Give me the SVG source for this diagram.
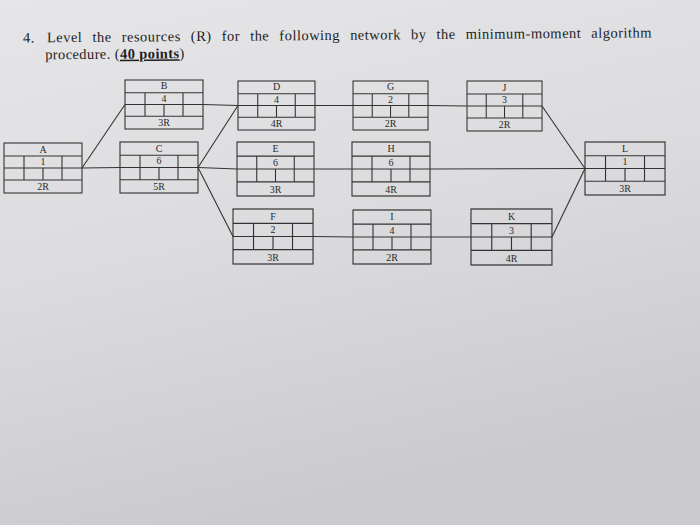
<svg xmlns="http://www.w3.org/2000/svg" xmlns:xlink="http://www.w3.org/1999/xlink" width="700" height="525" viewBox="0 0 700 525">
<defs>
<linearGradient id="paper" x1="0" y1="0" x2="0.3" y2="1">
<stop offset="0" stop-color="#e6e6e9"/>
<stop offset="0.5" stop-color="#dcdcdf"/>
<stop offset="1" stop-color="#cbcace"/>
</linearGradient>
<g id="node">
<rect x="0" y="0" width="78" height="50" fill="none"/>
<path d="M0 13H78M0 25H78M0 37H78M20 13V37M58 13V37M39 25V37" fill="none"/>
</g>
<style>
.nd{stroke:#333;stroke-width:1.1;fill:none}
.nd *{vector-effect:non-scaling-stroke}
.conn line{stroke:#333;stroke-width:1.1}
.t{font-family:"Liberation Serif","Times New Roman",serif;font-size:10px;fill:#2a2a2a;text-anchor:middle}
.h{font-family:"Liberation Serif","Times New Roman",serif;font-size:14.5px;letter-spacing:0.4px;fill:#1e1e1e}
</style>
</defs>
<rect width="700" height="525" fill="url(#paper)"/>
<g transform="rotate(-0.47 23 43)">
<text class="h" x="23" y="42.5">4.</text>
<text class="h" x="47" y="42.5" word-spacing="6" textLength="605" lengthAdjust="spacing">Level the resources (R) for the following network by the minimum-moment algorithm</text>
<text class="h" x="45" y="59.5">procedure. (<tspan font-weight="bold" text-decoration="underline">40 points</tspan>)</text>
</g>
<g class="conn">
<line x1="82" y1="168" x2="125" y2="104.5"/>
<line x1="82" y1="168" x2="120" y2="167.5"/>
<line x1="203" y1="104.5" x2="238" y2="105.5"/>
<line x1="198" y1="167.5" x2="238" y2="105.5"/>
<line x1="198" y1="167.5" x2="237" y2="169"/>
<line x1="198" y1="167.5" x2="233" y2="236.5"/>
<line x1="315" y1="105.5" x2="353" y2="105.5"/>
<line x1="428" y1="105.5" x2="467" y2="106"/>
<line x1="542" y1="106" x2="585" y2="168.5"/>
<line x1="314" y1="169" x2="352" y2="169"/>
<line x1="430" y1="169" x2="585" y2="168.5"/>
<line x1="313" y1="236.5" x2="353" y2="237"/>
<line x1="431" y1="237" x2="471" y2="237"/>
<line x1="552" y1="237" x2="585" y2="168.5"/>
</g>
<g id="A"><use class="nd" href="#node" transform="translate(4 143)"/><text class="t" x="43" y="152.5">A</text><text class="t" x="43" y="165">1</text><text class="t" x="43" y="190">2R</text></g>
<g id="B"><use class="nd" href="#node" transform="translate(125 80) scale(1 0.98)"/><text class="t" x="164" y="89.3">B</text><text class="t" x="164" y="101.6">4</text><text class="t" x="164" y="126.1">3R</text></g>
<g id="C"><use class="nd" href="#node" transform="translate(120 142) scale(1 1.02)"/><text class="t" x="159" y="151.7">C</text><text class="t" x="159" y="164.4">6</text><text class="t" x="159" y="190">5R</text></g>
<g id="D"><use class="nd" href="#node" transform="translate(238 81) scale(0.987 0.98)"/><text class="t" x="276.5" y="90.3">D</text><text class="t" x="276.5" y="102.6">4</text><text class="t" x="276.5" y="127.1">4R</text></g>
<g id="E"><use class="nd" href="#node" transform="translate(237 142) scale(0.987 1.08)"/><text class="t" x="275.5" y="152.3">E</text><text class="t" x="275.5" y="165.8">6</text><text class="t" x="275.5" y="192.8">3R</text></g>
<g id="F"><use class="nd" href="#node" transform="translate(233 209) scale(1.026 1.1)"/><text class="t" x="273" y="219.5">F</text><text class="t" x="273" y="233.2">2</text><text class="t" x="273" y="260.7">3R</text></g>
<g id="G"><use class="nd" href="#node" transform="translate(353 81) scale(0.962 0.98)"/><text class="t" x="390.5" y="90.3">G</text><text class="t" x="390.5" y="102.6">2</text><text class="t" x="390.5" y="127.1">2R</text></g>
<g id="H"><use class="nd" href="#node" transform="translate(352 142) scale(1 1.08)"/><text class="t" x="391" y="152.3">H</text><text class="t" x="391" y="165.8">6</text><text class="t" x="391" y="192.8">4R</text></g>
<g id="I"><use class="nd" href="#node" transform="translate(353 210) scale(1 1.08)"/><text class="t" x="392" y="220.3">I</text><text class="t" x="392" y="233.8">4</text><text class="t" x="392" y="260.8">2R</text></g>
<g id="J"><use class="nd" href="#node" transform="translate(467 81) scale(0.962 1)"/><text class="t" x="504.5" y="90.5">J</text><text class="t" x="504.5" y="103">3</text><text class="t" x="504.5" y="128">2R</text></g>
<g id="K"><use class="nd" href="#node" transform="translate(471 209) scale(1.038 1.12)"/><text class="t" x="511.5" y="219.6">K</text><text class="t" x="511.5" y="233.6">3</text><text class="t" x="511.5" y="261.6">4R</text></g>
<g id="L"><use class="nd" href="#node" transform="translate(585 142) scale(1.026 1.06)"/><text class="t" x="625" y="152">L</text><text class="t" x="625" y="165.3">1</text><text class="t" x="625" y="191.8">3R</text></g>
</svg>
